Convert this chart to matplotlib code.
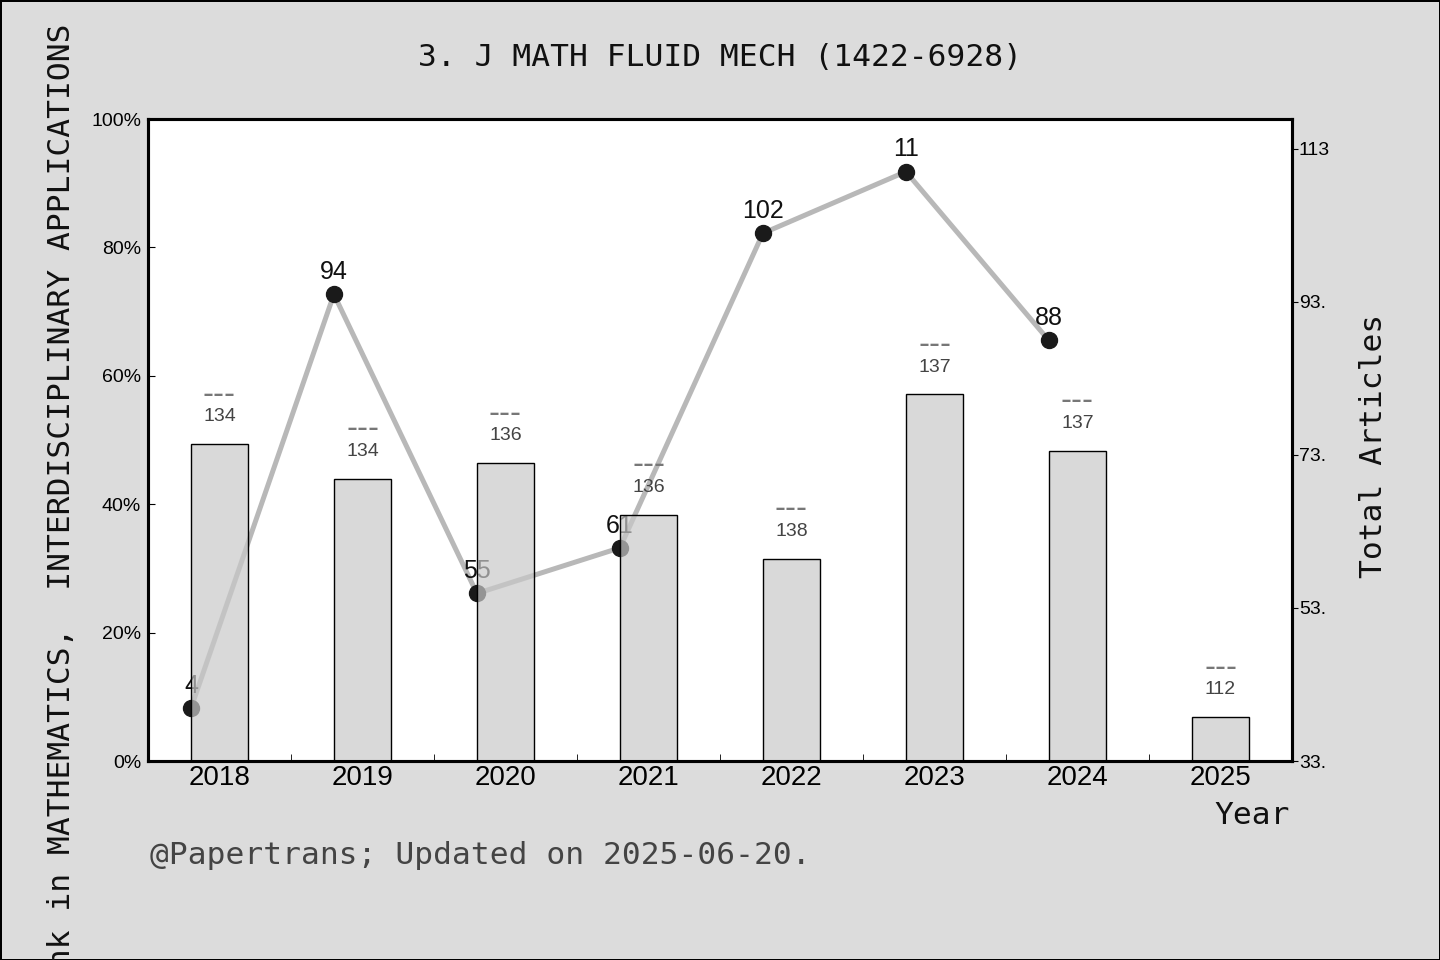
import matplotlib.pyplot as plt
import numpy as np

years = ['2018', '2019', '2020', '2021', '2022', '2023', '2024', '2025']
# rank percentile line (left axis, 0-1) and its labels
rank_pct = [0.082, 0.727, 0.261, 0.332, 0.822, 0.918, 0.655]
rank_labels = ['4', '94', '55', '61', '102', '11', '88']
# article counts (right axis) and the totals printed above the bars
articles = [74.4, 69.9, 71.9, 65.2, 59.4, 80.9, 73.5, 38.7]
totals = ['134', '134', '136', '136', '138', '137', '137', '112']
right_ticks = [33, 53, 73, 93, 113]
right_ticklabels = ['33.', '53.', '73.', '93.', '113']

MONO = 'DejaVu Sans Mono'
SANS = 'Liberation Sans'

fig = plt.figure(figsize=(14.4, 9.6), dpi=100)
fig.patch.set_facecolor('#dcdcdc')
fig.patch.set_edgecolor('black')
fig.patch.set_linewidth(2)

ax = fig.add_axes([148 / 1440, 1 - 761 / 960, (1292 - 148) / 1440, (761 - 119) / 960])
ax.set_facecolor('white')
x = np.arange(len(years))

# line of rank percentiles, set at the left edge of each bar
xl = x[:len(rank_pct)] - 0.2
ax.plot(xl, rank_pct, color='#b8b8b8', lw=3.6, marker='o', ms=11.5,
        mfc='#1a1a1a', mec='#1a1a1a', zorder=2)
for xi, yi, lab in zip(xl, rank_pct, rank_labels):
    ax.annotate(lab, (xi, yi), xytext=(0, 11), textcoords='offset points',
                ha='center', va='baseline', fontsize=18, family=SANS, color='#111111')

ax.set_xlim(-0.5, 7.5)
ax.set_ylim(0, 1)
ax.set_yticks(np.linspace(0, 1, 6))
ax.set_yticklabels([f'{int(v * 100)}%' for v in np.linspace(0, 1, 6)], family=SANS, fontsize=14)
ax.tick_params(axis='y', direction='in', length=5, pad=5)
ax.set_xticks(x)
ax.set_xticklabels(years, family=SANS, fontsize=20)
ax.set_xticks(x[:-1] + 0.5, minor=True)
ax.tick_params(axis='x', which='major', length=0, pad=3)
ax.tick_params(axis='x', which='minor', direction='in', length=5)

# bars on a twin axis drawn over the line
ax2 = ax.twinx()
ax2.bar(x, articles, width=0.4, bottom=0, facecolor=(0.79, 0.79, 0.79, 0.7),
        edgecolor='black', linewidth=1)
for xi, h, t in zip(x, articles, totals):
    ax2.annotate(t, (xi, h), xytext=(0, 16.5), textcoords='offset points',
                 ha='center', va='baseline', fontsize=14, family=SANS, color='#444444')
    ax2.annotate('---', (xi, h), xytext=(0, 30), textcoords='offset points',
                 ha='center', va='baseline', fontsize=22, family='DejaVu Sans', color='#777777')
ax2.set_ylim(33, 116.9)
ax2.set_yticks(right_ticks)
ax2.set_yticklabels(right_ticklabels, family=SANS, fontsize=14)
ax2.tick_params(axis='y', direction='out', length=4, pad=1)

for a in (ax, ax2):
    for s in a.spines.values():
        s.set_linewidth(2.2)
        s.set_color('black')

fig.text(0.5, 1 - 57 / 960, '3. J MATH FLUID MECH (1422-6928)', ha='center', va='center',
         fontsize=22.5, family=MONO, color='#111111')
fig.text(150 / 1440, 1 - 855 / 960, '@Papertrans; Updated on 2025-06-20.', ha='left', va='center',
         fontsize=22.5, family=MONO, color='#444444')
fig.text(1290 / 1440, 1 - 816 / 960, 'Year', ha='right', va='center',
         fontsize=22.5, family=MONO, color='#111111')
fig.text(1373 / 1440, 1 - 446 / 960, 'Total Articles', ha='center', va='center', rotation=90,
         fontsize=22.5, family=MONO, color='#111111')
fig.text(62 / 1440, -45 / 960, 'Rank in MATHEMATICS,  INTERDISCIPLINARY APPLICATIONS - Q1',
         ha='center', va='bottom', rotation=90, fontsize=22.5, family=MONO, color='#111111')

fig.savefig('out.png', dpi=100, facecolor=fig.get_facecolor(), edgecolor=fig.get_edgecolor())
